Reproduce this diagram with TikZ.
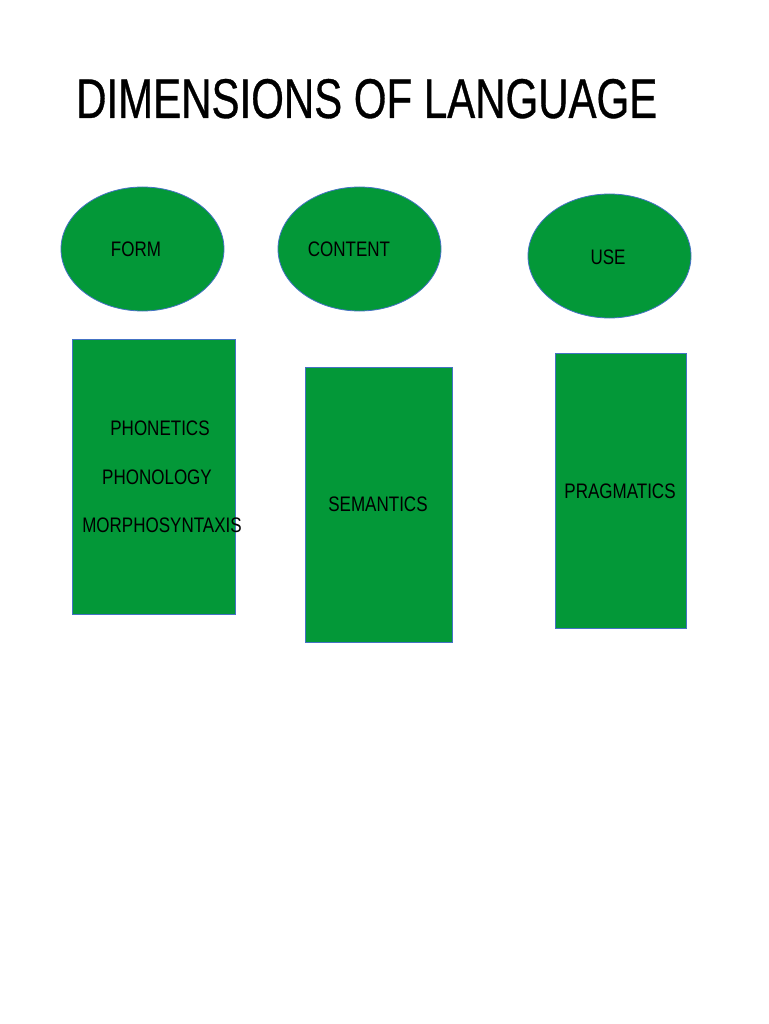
\documentclass[tikz,border=0pt]{standalone}
\usepackage{fontspec}
\usetikzlibrary{shapes.geometric}
\setmainfont{Liberation Sans}
\newfontfamily\titlefont[FakeStretch=0.75,FakeBold=0.6]{Liberation Sans}
\newfontfamily\labelfont[FakeStretch=0.81]{Liberation Sans}
\definecolor{boxgreen}{RGB}{3,152,56}
\definecolor{edgeblue}{RGB}{68,114,196}
\begin{document}
\begin{tikzpicture}[x=1pt,y=-1pt,
  greenshape/.style={fill=boxgreen,draw=edgeblue,line width=0.8pt},
  lbl/.style={font=\labelfont\fontsize{21}{24}\selectfont,text=black,inner sep=0pt}]
\useasboundingbox (0,0) rectangle (768,1024);
\fill[white] (0,0) rectangle (768,1024);
\node[font=\titlefont\fontsize{56}{60}\selectfont,anchor=base west,inner sep=0pt] (title) at (76,118) {DIMENSIONS OF LANGUAGE};
% ellipses
\node[greenshape,ellipse,minimum width=163pt,minimum height=124pt] (form) at (142.5,249) {};
\node[greenshape,ellipse,minimum width=163pt,minimum height=124pt] (content) at (359.5,249) {};
\node[greenshape,ellipse,minimum width=163pt,minimum height=124pt] (use) at (609.5,256) {};
\node[lbl] (formt) at (136,249) {FORM};
\node[lbl] (contentt) at (349,249) {CONTENT};
\node[lbl] (uset) at (608,257) {USE};
% rectangles
\draw[greenshape] (72,339) rectangle (235,614);
\draw[greenshape] (305,367) rectangle (452,642);
\draw[greenshape] (555,353) rectangle (686,628);
\node[lbl] (phon) at (160,428) {PHONETICS};
\node[lbl] (phonol) at (157,477) {PHONOLOGY};
\node[lbl] (morph) at (162,525) {MORPHOSYNTAXIS};
\node[lbl] (sem) at (378,504) {SEMANTICS};
\node[lbl] (prag) at (620,491) {PRAGMATICS};
\end{tikzpicture}
\end{document}
